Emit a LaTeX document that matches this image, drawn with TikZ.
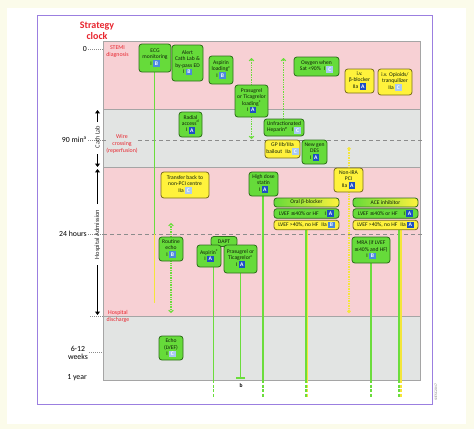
\documentclass[tikz,border=0pt]{standalone}
\usepackage{fontspec}
\setmainfont{Carlito}
\newfontfamily\symf{DejaVu Sans}
\usetikzlibrary{arrows.meta}
\definecolor{bgcream}{HTML}{FBFBEA}
\definecolor{panelpurple}{HTML}{9B7FE0}
\definecolor{bandpink}{HTML}{F7D0D4}
\definecolor{bandgrey}{HTML}{E2E4E3}
\definecolor{chartgrey}{HTML}{A5A5A5}
\definecolor{dashgrey}{HTML}{8C8C8C}
\definecolor{boxgreen}{HTML}{66DB3A}
\definecolor{boxgreenborder}{HTML}{2F6E1C}
\definecolor{boxyellow}{HTML}{FFF23C}
\definecolor{boxyellowborder}{HTML}{7A6E1E}
\definecolor{linegreen}{HTML}{6BDD3C}
\definecolor{lineyellow}{HTML}{F4E63A}
\definecolor{redlabel}{HTML}{E8262F}
\definecolor{badgeA}{HTML}{1D4FC4}
\definecolor{badgeB}{HTML}{4B88DC}
\definecolor{badgeC}{HTML}{A9C9F4}
\definecolor{boxtext}{HTML}{10200A}
\newcommand{\mybadge}[2]{\begingroup\setlength{\fboxsep}{0.7pt}\colorbox{#1}{\parbox[c][5.4pt][c]{5.2pt}{\centering\textcolor{white}{\bfseries #2}}}\endgroup}
\newcommand{\clsA}{\mybadge{badgeA}{A}}
\newcommand{\clsB}{\mybadge{badgeB}{B}}
\newcommand{\clsC}{\mybadge{badgeC}{C}}
\newcommand{\myle}{{\symf ≤}}
\pgfdeclarelayer{bands}
\pgfdeclarelayer{conn}
\pgfsetlayers{bands,conn,main}
\begin{document}
\begin{tikzpicture}[x=1pt,y=-1pt,
  gbox/.style={draw=boxgreenborder, fill=boxgreen, rounded corners=2.8pt, line width=0.8pt, align=center, inner sep=0.5pt, font=\fontsize{5.6}{6.4}\selectfont, text=boxtext},
  ybox/.style={gbox, draw=boxyellowborder, fill=boxyellow},
  hdr/.style={gbox, fill=none, left color=boxgreen, right color=boxyellow},
  gline/.style={draw=linegreen, line width=1.6pt},
  yline/.style={draw=lineyellow, line width=1.6pt},
  gtail/.style={gline, dash pattern=on 3pt off 1.6pt},
  ytail/.style={yline, dash pattern=on 3pt off 1.6pt},
  gdot/.style={draw=linegreen, line width=1.2pt, dash pattern=on 0.8pt off 0.9pt},
  ydot/.style={draw=lineyellow, line width=1.2pt, dash pattern=on 0.8pt off 0.9pt},
  barb/.style={-{Straight Barb[length=2pt,width=4.5pt]}},
  dotend/.style={-{Circle[length=3.4pt]}},
  axl/.style={font=\fontsize{7.8}{8.2}\selectfont, text=black, inner sep=1pt},
  axt/.style={font=\fontsize{6.4}{7}\selectfont, text=black!85, inner sep=0.5pt},
  redl/.style={font=\fontsize{5.9}{7}\selectfont, text=redlabel, align=center, inner sep=0.5pt},
  leader/.style={draw=dashgrey, line width=0.6pt, dash pattern=on 0.8pt off 1.2pt},
  axarr/.style={draw=black, line width=1.4pt, -{Triangle[length=3.4pt,width=4.8pt]}},
  gridl/.style={draw=dashgrey, line width=0.9pt, dash pattern=on 4pt off 3pt}
]
\useasboundingbox (0,0) rectangle (474,429);
\begin{pgfonlayer}{bands}
\fill[bgcream] (0,0) rectangle (474,429);
\fill[white] (7,8) rectangle (466,424);
\draw[panelpurple, line width=1pt] (37,15) rectangle (432,404);
\fill[bandpink] (103,41.7) rectangle (420.7,109.3);
\fill[bandgrey] (103,109.3) rectangle (420.7,167.3);
\fill[bandpink] (103,167.3) rectangle (420.7,316.7);
\fill[bandgrey] (103,316.7) rectangle (420.7,380);
\draw[chartgrey, line width=0.6pt] (103,41.7) rectangle (420.7,380);
\draw[chartgrey, line width=0.6pt] (103,109.3) -- (420.7,109.3) (103,167.3) -- (420.7,167.3) (103,316.7) -- (420.7,316.7);
\draw[gridl] (103,140) -- (423,140);
\draw[gridl] (103,234) -- (423,234);
\end{pgfonlayer}
% title and red labels
\node[font=\bfseries\fontsize{10}{10.5}\selectfont, text=redlabel, align=center, inner sep=0pt] (title) at (97,31) {Strategy\\clock};
\node[redl] (stemi) at (117.5,51.5) {STEMI\\diagnosis};
\node[redl, fill=bandgrey] (wire) at (122,143.5) {Wire\\crossing\\(reperfusion)};
\node[redl] (disch) at (118,316.5) {Hospital\\discharge};
% left axis
\node[axl, anchor=east] (l0) at (88,49) {0};
\coordinate (c0) at (103,49);
\draw[leader] (l0.east) -- (c0);
\node[axl, anchor=east] (l90) at (88,140) {90 min\textsuperscript{a}};
\coordinate (c90) at (103,140);
\draw[leader] (l90.east) -- (c90);
\node[axl, anchor=east] (l24) at (88,234) {24 hours};
\coordinate (c24) at (103,234);
\draw[leader] (l24.east) -- (c24);
\node[axl, anchor=east, align=center] (l612) at (89,352.5) {6-12\\weeks};
\coordinate (c612) at (103,352.5);
\draw[leader] (l612.east) -- (c612);
\node[axl, anchor=east] (l1y) at (88,378) {1 year};
\coordinate (hd1) at (90,316.7);
\coordinate (hd2) at (103,316.7);
\draw[leader] (hd1) -- (hd2);
% vertical axis arrows
\node[axt, rotate=90] (cathlab) at (97.5,137) {Cath Lab};
\coordinate (cl0) at (97.5,110);
\coordinate (cl1) at (97.5,122);
\coordinate (cl2) at (97.5,154);
\coordinate (cl3) at (97.5,167);
\draw[axarr] (cl1) -- (cl0);
\draw[axarr] (cl2) -- (cl3);
\node[axt, rotate=90] (hosp) at (97.5,234.5) {Hospital Admission};
\coordinate (ha0) at (97.5,169);
\coordinate (ha1) at (97.5,204);
\coordinate (ha2) at (97.5,265);
\coordinate (ha3) at (97.5,315);
\draw[axarr] (ha1) -- (ha0);
\draw[axarr] (ha2) -- (ha3);
% nodes
\node[gbox,minimum width=32,minimum height=28] (ecg) at (155,58) {ECG\\monitoring\\I \clsB};
\node[gbox,minimum width=31,minimum height=36] (alert) at (187.5,63) {Alert\\Cath Lab \&\\by-pass ED\\I \clsB};
\node[gbox,minimum width=24,minimum height=28] (asp1) at (221,70) {Aspirin\\loading\textsuperscript{c}\\I \clsB};
\node[gbox,minimum width=33,minimum height=32] (prl) at (251.5,101) {Prasugrel\\or Ticagrelor\\loading\textsuperscript{c}\\I \clsA};
\node[gbox,minimum width=40,minimum height=17] (hep) at (284,127.5) {Unfractionated\\Heparin\textsuperscript{e}\hspace{4pt}I \clsC};
\node[gbox,minimum width=45,minimum height=19] (oxy) at (316.5,66.5) {Oxygen when\\Sat <90\%\hspace{3pt}I \clsC};
\node[ybox,minimum width=29,minimum height=24] (ivb) at (359.5,81) {i.v.\\β-blocker\\IIa \clsA};
\node[ybox,minimum width=34,minimum height=26] (ivo) at (395,82) {i.v. Opioids/\\tranquilizer\\IIa \clsC};
\node[gbox,minimum width=23,minimum height=25] (rad) at (190.5,124.5) {Radial\\access\textsuperscript{d}\\I \clsA};
\node[ybox,minimum width=35,minimum height=18] (gp) at (282.5,149) {GP IIb/IIIa\\bailout\hspace{3pt}IIa \clsC};
\node[gbox,minimum width=25,minimum height=24] (des) at (314.5,152) {New gen\\DES\\I \clsA};
\node[ybox,minimum width=29,minimum height=24] (ira) at (348.5,180) {Non-IRA\\PCI\\IIa \clsA};
\node[ybox,minimum width=48,minimum height=26] (trans) at (185,185) {Transfer back to\\non-PCI centre\\IIa \clsC};
\node[gbox,minimum width=29,minimum height=24] (stat) at (263.5,184) {High dose\\statin\\I \clsA};
\node[hdr,minimum width=65,minimum height=9] (obh) at (306.5,202.5) {Oral β-blocker};
\node[gbox,minimum width=65,minimum height=9.5] (ob1) at (306.5,213.5) {LVEF \myle40\% or HF\hspace{6pt}I \clsA};
\node[ybox,minimum width=65,minimum height=9.5] (ob2) at (306.5,225) {LVEF >40\%, no HF\hspace{3pt}IIa \clsB};
\node[hdr,minimum width=65,minimum height=9] (aceh) at (385.5,202.5) {ACE inhibitor};
\node[gbox,minimum width=65,minimum height=9.5] (ace1) at (385.5,213.5) {LVEF \myle40\% or HF\hspace{6pt}I \clsA};
\node[ybox,minimum width=65,minimum height=9.5] (ace2) at (385.5,225) {LVEF >40\%, no HF\hspace{3pt}IIa \clsA};
\node[gbox,minimum width=38,minimum height=26] (mra) at (371,250) {MRA (if LVEF\\\myle40\% and HF)\\I \clsB};
\node[gbox,minimum width=24,minimum height=24] (recho) at (171,249) {Routine\\echo\\I \clsB};
\node[gbox,minimum width=26,minimum height=10] (dapt) at (224,241.5) {DAPT};
\node[gbox,minimum width=24,minimum height=22] (asp2) at (209,256) {Aspirin\textsuperscript{c}\\I \clsA};
\node[gbox,minimum width=33,minimum height=28] (pras2) at (240.5,259) {Prasugrel or\\Ticagrelor\textsuperscript{c}\\I \clsA};
\node[gbox,minimum width=24,minimum height=24] (echo) at (171,348) {Echo\\(LVEF)\\I \clsC};
% connectors (behind nodes)
\coordinate (ecgmid) at (154.5,234);
\coordinate (ecgend) at (154.5,303);
\coordinate (prltop) at (251.5,58);
\coordinate (prlbot) at (251.5,139);
\coordinate (heptop) at (283.5,58);
\coordinate (iratop) at (349,147);
\coordinate (irabot) at (349,313);
\coordinate (retop) at (171,223);
\coordinate (rebot) at (171,313);
\coordinate (s1) at (263,380);   \coordinate (s1t) at (263,397);
\coordinate (a2) at (213.5,380); \coordinate (a2t) at (213.5,397);
\coordinate (p2) at (240.5,379);
\coordinate (obl) at (305.7,380); \coordinate (oblt) at (305.7,397);
\coordinate (obr) at (307.3,380); \coordinate (obrt) at (307.3,397);
\coordinate (acl) at (399.2,380); \coordinate (aclt) at (399.2,397);
\coordinate (acr) at (400.8,380); \coordinate (acrt) at (400.8,397);
\coordinate (m1) at (371,380);   \coordinate (m1t) at (371,397);
\begin{pgfonlayer}{conn}
\draw[gline] (ecg.south -| ecgmid) -- (ecgmid);
\draw[yline] (ecgmid) -- (ecgend);
\draw[gdot,barb] (prl.north) -- (prltop);
\draw[gdot,barb] (prl.south) -- (prlbot);
\draw[gdot,barb] (hep.north -| heptop) -- (heptop);
\draw[ydot,dotend] (ira.north -| iratop) -- (iratop);
\draw[ydot,dotend] (ira.south -| irabot) -- (irabot);
\draw[gdot,barb] (recho.north) -- (retop);
\draw[gdot,barb] (recho.south) -- (rebot);
\draw[gline] (stat.south -| s1) -- (s1);
\draw[gtail] (s1) -- (s1t);
\draw[gline] (asp2.south -| a2) -- (a2);
\draw[gtail] (a2) -- (a2t);
\draw[gline,-{Bar[width=9pt]}] (pras2.south) -- (p2);
\draw[gline] (ob2.south -| obl) -- (obl);
\draw[yline] (ob2.south -| obr) -- (obr);
\draw[gtail] (obl) -- (oblt);
\draw[ytail] (obr) -- (obrt);
\draw[gline] (ace2.south -| acl) -- (acl);
\draw[yline] (ace2.south -| acr) -- (acr);
\draw[gtail] (acl) -- (aclt);
\draw[ytail] (acr) -- (acrt);
\draw[gline] (mra.south -| m1) -- (m1);
\draw[gtail] (m1) -- (m1t);
\end{pgfonlayer}
\node[font=\bfseries\fontsize{5.5}{6}\selectfont, inner sep=0.5pt] (blab) at (241,386) {b};
\node[rotate=90, font=\fontsize{3.6}{4}\selectfont, text=black!55, inner sep=0pt] (esc) at (436,392) {©ESC 2017};
\end{tikzpicture}
\end{document}
